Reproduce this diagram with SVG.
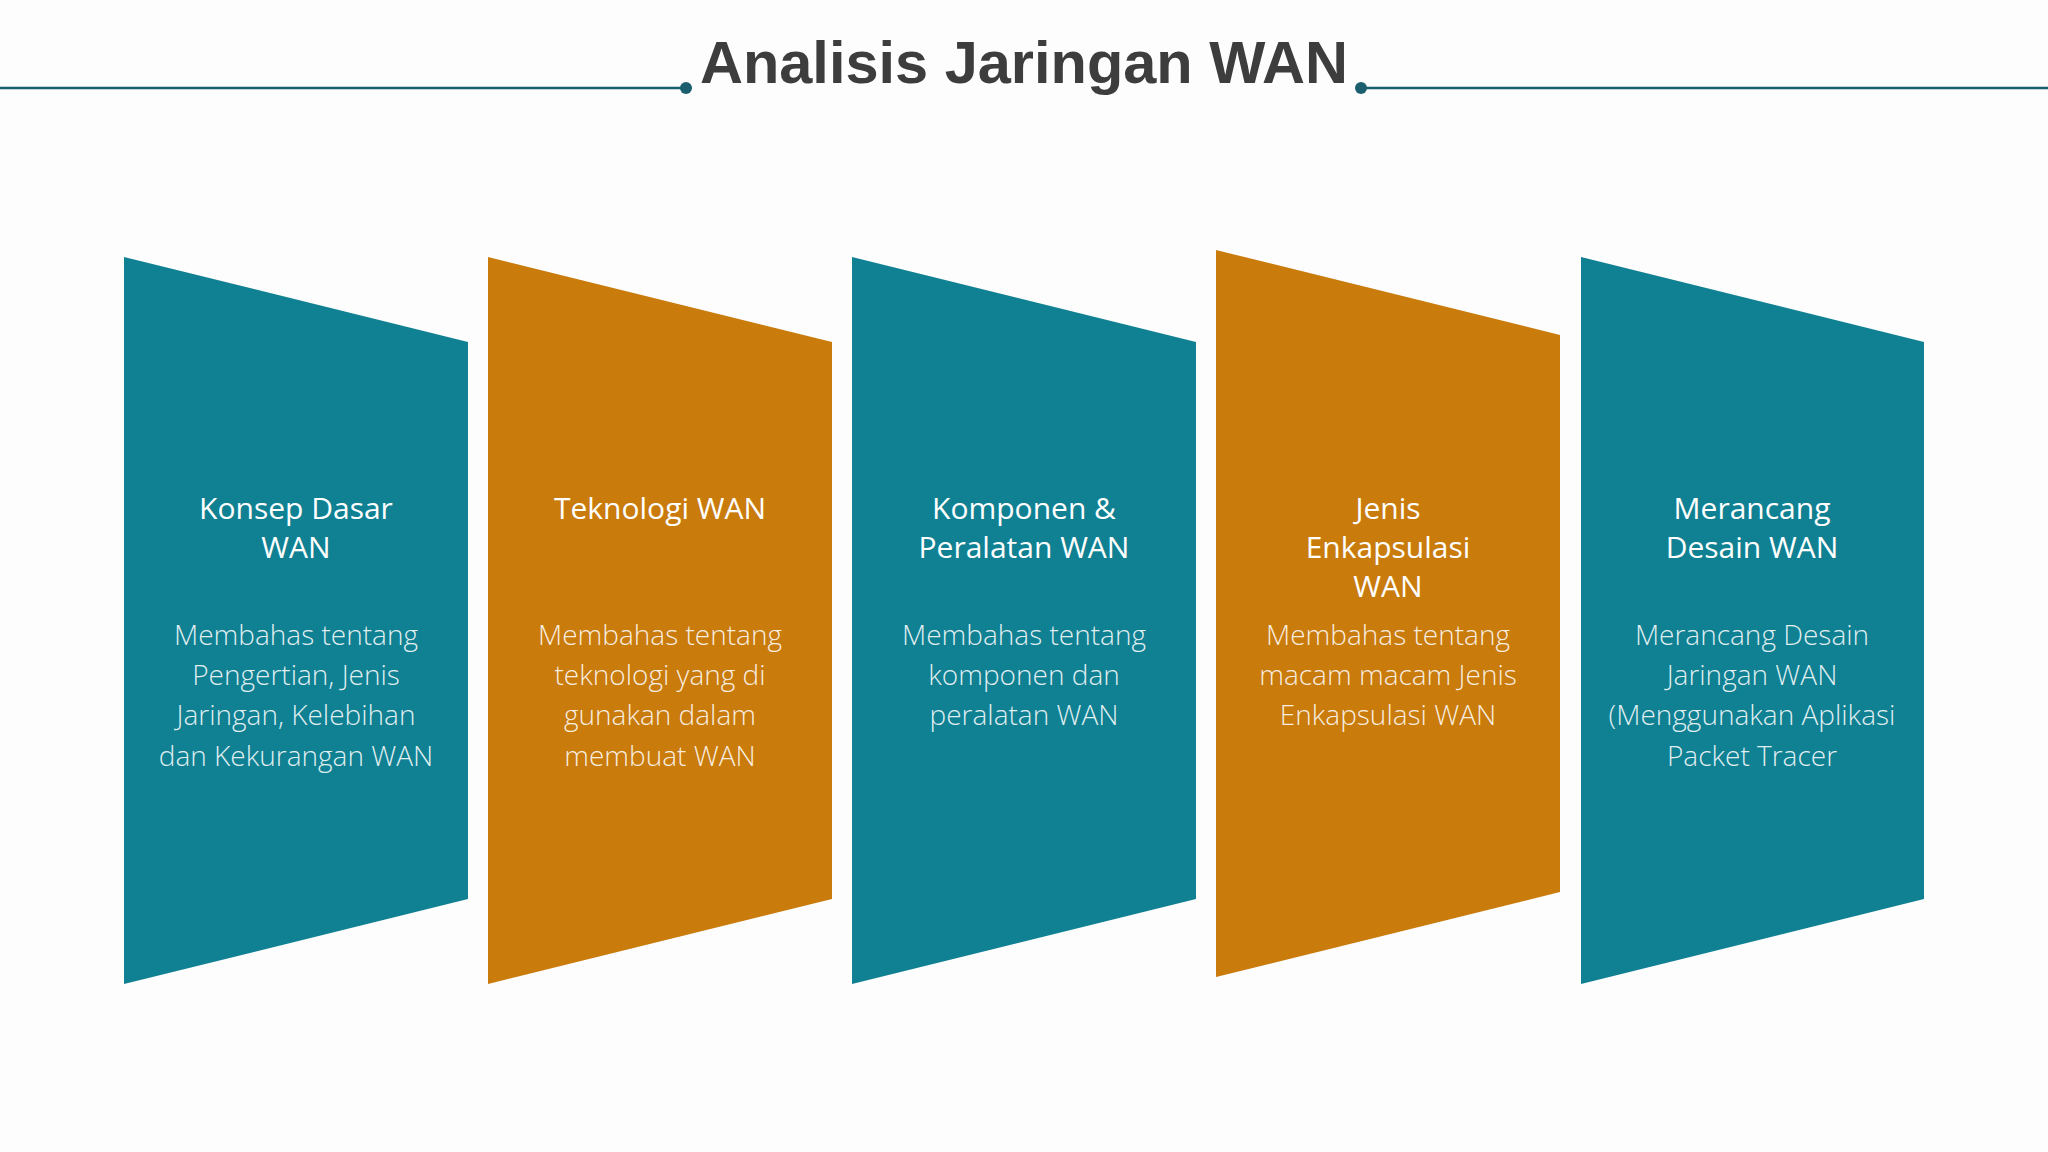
<svg xmlns="http://www.w3.org/2000/svg" width="2048" height="1152" viewBox="0 0 2048 1152">
<style>
.bg{fill:#fdfdfd}
.teal{fill:#108193}
.orange{fill:#c97b0c}
.rule{stroke:#1b5e6e;stroke-width:2.5;fill:none}
.dot{fill:#1b5e6e}
.title{font-family:"Liberation Sans",Arial,sans-serif;font-weight:bold;font-size:59.5px;fill:#3d3d3d;text-anchor:middle}
.head{font-family:"Open Sans","Noto Sans",sans-serif;font-weight:400;font-size:30px;fill:#ffffff;text-anchor:middle}
.body{font-family:"Open Sans","Noto Sans",sans-serif;font-weight:300;font-size:28px;fill:#ffffff;fill-opacity:0.88;text-anchor:middle}
</style>
<rect class="bg" x="0" y="0" width="2048" height="1152"/>
<g id="title">
<line class="rule" x1="0" y1="88" x2="686" y2="88"/>
<line class="rule" x1="1361" y1="88" x2="2048" y2="88"/>
<circle class="dot" cx="686" cy="88" r="6"/>
<circle class="dot" cx="1361" cy="88" r="6"/>
<text class="title" x="1024" y="83">Analisis Jaringan WAN</text>
</g>
<g id="panel1">
<polygon class="teal" points="124,257 468,342 468,899 124,984"/>
<text class="head" x="296" y="519">Konsep Dasar</text>
<text class="head" x="296" y="558">WAN</text>
<text class="body" x="296" y="645">Membahas tentang</text>
<text class="body" x="296" y="685">Pengertian, Jenis</text>
<text class="body" x="296" y="725">Jaringan, Kelebihan</text>
<text class="body" x="296" y="766">dan Kekurangan WAN</text>
</g>
<g id="panel2">
<polygon class="orange" points="488,257 832,342 832,899 488,984"/>
<text class="head" x="660" y="519">Teknologi WAN</text>
<text class="body" x="660" y="645">Membahas tentang</text>
<text class="body" x="660" y="685">teknologi yang di</text>
<text class="body" x="660" y="725">gunakan dalam</text>
<text class="body" x="660" y="766">membuat WAN</text>
</g>
<g id="panel3">
<polygon class="teal" points="852,257 1196,342 1196,899 852,984"/>
<text class="head" x="1024" y="519">Komponen &amp;</text>
<text class="head" x="1024" y="558">Peralatan WAN</text>
<text class="body" x="1024" y="645">Membahas tentang</text>
<text class="body" x="1024" y="685">komponen dan</text>
<text class="body" x="1024" y="725">peralatan WAN</text>
</g>
<g id="panel4">
<polygon class="orange" points="1216,250 1560,335 1560,892 1216,977"/>
<text class="head" x="1388" y="519">Jenis</text>
<text class="head" x="1388" y="558">Enkapsulasi</text>
<text class="head" x="1388" y="597">WAN</text>
<text class="body" x="1388" y="645">Membahas tentang</text>
<text class="body" x="1388" y="685">macam macam Jenis</text>
<text class="body" x="1388" y="725">Enkapsulasi WAN</text>
</g>
<g id="panel5">
<polygon class="teal" points="1581,257 1924,342 1924,899 1581,984"/>
<text class="head" x="1752" y="519">Merancang</text>
<text class="head" x="1752" y="558">Desain WAN</text>
<text class="body" x="1752" y="645">Merancang Desain</text>
<text class="body" x="1752" y="685">Jaringan WAN</text>
<text class="body" x="1752" y="725">(Menggunakan Aplikasi</text>
<text class="body" x="1752" y="766">Packet Tracer</text>
</g>
<g id="connectors"></g>
</svg>
